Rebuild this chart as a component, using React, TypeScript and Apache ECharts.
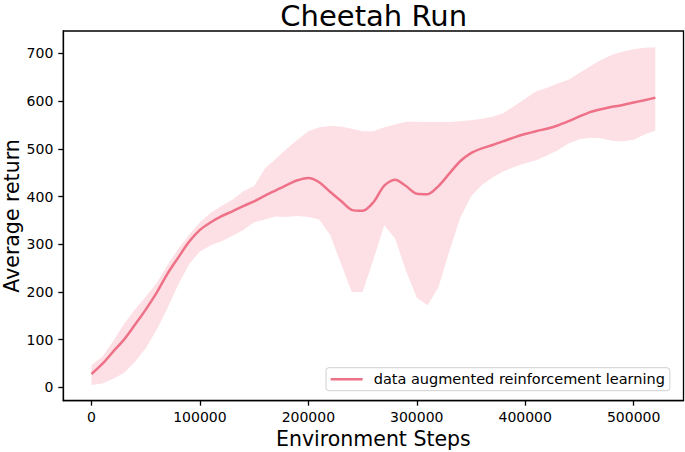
import React, { useEffect, useRef } from "react";
import * as echarts from "echarts";

const steps: number[] = [
  0, 10000, 20000, 30000, 40000, 50000, 60000, 70000, 80000, 90000,
  100000, 110000, 120000, 130000, 140000, 150000, 160000, 170000, 180000, 190000,
  200000, 210000, 220000, 230000, 240000, 250000, 260000, 270000, 280000, 290000,
  300000, 310000, 320000, 330000, 340000, 350000, 360000, 370000, 380000, 390000,
  400000, 410000, 420000, 430000, 440000, 450000, 460000, 470000, 480000, 490000,
  500000, 510000, 520000,
];

const meanReturn: number[] = [
  28, 49, 75, 100, 131, 163, 198, 238, 272, 305,
  330, 346, 359, 369, 380, 390, 402, 413, 424, 434,
  439, 430, 410, 391, 372, 370, 388, 423, 435, 422,
  406, 405, 422, 448, 474, 491, 501, 508, 516, 524,
  531, 537, 542, 549, 558, 568, 577, 583, 588, 592,
  597, 602, 607,
];

const upperReturn: number[] = [
  47, 64, 97, 133, 163, 190, 218, 256, 290, 320,
  346, 366, 380, 393, 411, 422, 459, 479, 500, 519,
  537, 545, 548, 547, 542, 537, 537, 545, 551, 557,
  557, 556, 556, 556, 558, 560, 563, 567, 575, 590,
  605, 620, 628, 637, 645, 659, 673, 686, 697, 704,
  709, 712, 713,
];

const lowerReturn: number[] = [
  5, 8, 18, 30, 53, 82, 120, 166, 215, 258,
  285, 298, 306, 318, 330, 346, 352, 358, 357, 359,
  357, 352, 320, 260, 200, 200, 268, 340, 312, 245,
  188, 172, 210, 285, 355, 400, 424, 440, 453, 462,
  470, 476, 486, 497, 511, 520, 523, 522, 517, 516,
  519, 530, 538,
];

const xTicks: number[] = [0, 100000, 200000, 300000, 400000, 500000];
const yTicks: number[] = [0, 100, 200, 300, 400, 500, 600, 700];

const seriesName = "data augmented reinforcement learning";
const titleText = "Cheetah Run";
const xName = "Environment Steps";
const yName = "Average return";

export default function App() {
  const ref = useRef<HTMLDivElement>(null);

  useEffect(() => {
    if (!ref.current) return;
    const chart = echarts.init(ref.current, undefined, { renderer: "svg" });
    const font = "DejaVu Sans";
    const lineColor = "#ee7187";
    const bandColor = "#fde0e5";

    const meanData = steps.map((s, i) => [s, meanReturn[i]]);
    const bandData = steps.map((s, i) => [s, lowerReturn[i], upperReturn[i]]);

    const axisCommon = {
      axisLine: { show: true, onZero: false, lineStyle: { color: "#000", width: 1.3 } },
      axisTick: { show: true, length: 5, lineStyle: { color: "#000", width: 1.3 } },
      splitLine: { show: false },
    };

    chart.setOption({
      animation: false,
      textStyle: { fontFamily: font },
      grid: {
        left: 63.3,
        top: 31,
        right: 1.5,
        bottom: 51.3,
        containLabel: false,
        outerBoundsMode: "none",
        show: true,
        borderColor: "#000",
        borderWidth: 1.3,
        backgroundColor: "transparent",
      },
      graphic: [
        {
          type: "text",
          x: 373.7,
          y: 16,
          style: {
            text: titleText,
            fontFamily: font,
            fontSize: 29,
            fill: "#000",
            textAlign: "center",
            textVerticalAlign: "middle",
          },
        },
        {
          type: "text",
          x: 11.5,
          y: 216,
          rotation: Math.PI / 2,
          style: {
            text: yName,
            fontFamily: font,
            fontSize: 20.5,
            fill: "#000",
            textAlign: "center",
            textVerticalAlign: "middle",
          },
        },
      ],
      xAxis: {
        type: "value",
        min: -26000,
        max: 546000,
        ...axisCommon,
        axisTick: { ...axisCommon.axisTick, customValues: xTicks },
        axisLabel: {
          customValues: xTicks,
          margin: 9,
          color: "#000",
          fontSize: 14,
          fontFamily: font,
          formatter: (v: number) => String(v),
        },
        name: xName,
        nameLocation: "middle",
        nameGap: 28,
        nameTextStyle: { fontSize: 20.5, color: "#000", fontFamily: font },
      },
      yAxis: {
        type: "value",
        min: -28,
        max: 747,
        ...axisCommon,
        axisTick: { ...axisCommon.axisTick, customValues: yTicks },
        axisLabel: {
          customValues: yTicks,
          margin: 10,
          color: "#000",
          fontSize: 14,
          fontFamily: font,
          formatter: (v: number) => String(v),
        },
      },
      legend: {
        data: [seriesName],
        left: 326,
        top: 367.7,
        padding: [4, 5, 4, 4.7],
        icon: "rect",
        itemWidth: 32,
        itemHeight: 2.5,
        borderColor: "#d0d0d0",
        borderWidth: 1,
        borderRadius: 3,
        backgroundColor: "rgba(255,255,255,0.8)",
        textStyle: {
          fontSize: 14.5,
          color: "#000",
          fontFamily: font,
          padding: [0, 0, 0, 6],
        },
      },
      series: [
        {
          name: "band",
          type: "custom",
          data: bandData,
          silent: true,
          clip: true,
          z: 1,
          encode: { x: 0, y: [1, 2] },
          renderItem: (params: any, api: any) => {
            if (params.dataIndex !== 0) return null;
            const pts: number[][] = [];
            for (let i = 0; i < steps.length; i++) {
              pts.push(api.coord([steps[i], upperReturn[i]]));
            }
            for (let i = steps.length - 1; i >= 0; i--) {
              pts.push(api.coord([steps[i], lowerReturn[i]]));
            }
            return {
              type: "polygon",
              shape: { points: pts },
              style: { fill: bandColor, stroke: "none" },
            };
          },
        },
        {
          name: seriesName,
          type: "line",
          data: meanData,
          symbol: "none",
          smooth: 0.3,
          color: lineColor,
          lineStyle: { color: lineColor, width: 2.5 },
          z: 3,
        },
      ],
    });

    return () => {
      chart.dispose();
    };
  }, []);

  return (
    <div
      ref={ref}
      style={{ position: "absolute", left: 0, top: 0, width: 685, height: 452 }}
    />
  );
}
